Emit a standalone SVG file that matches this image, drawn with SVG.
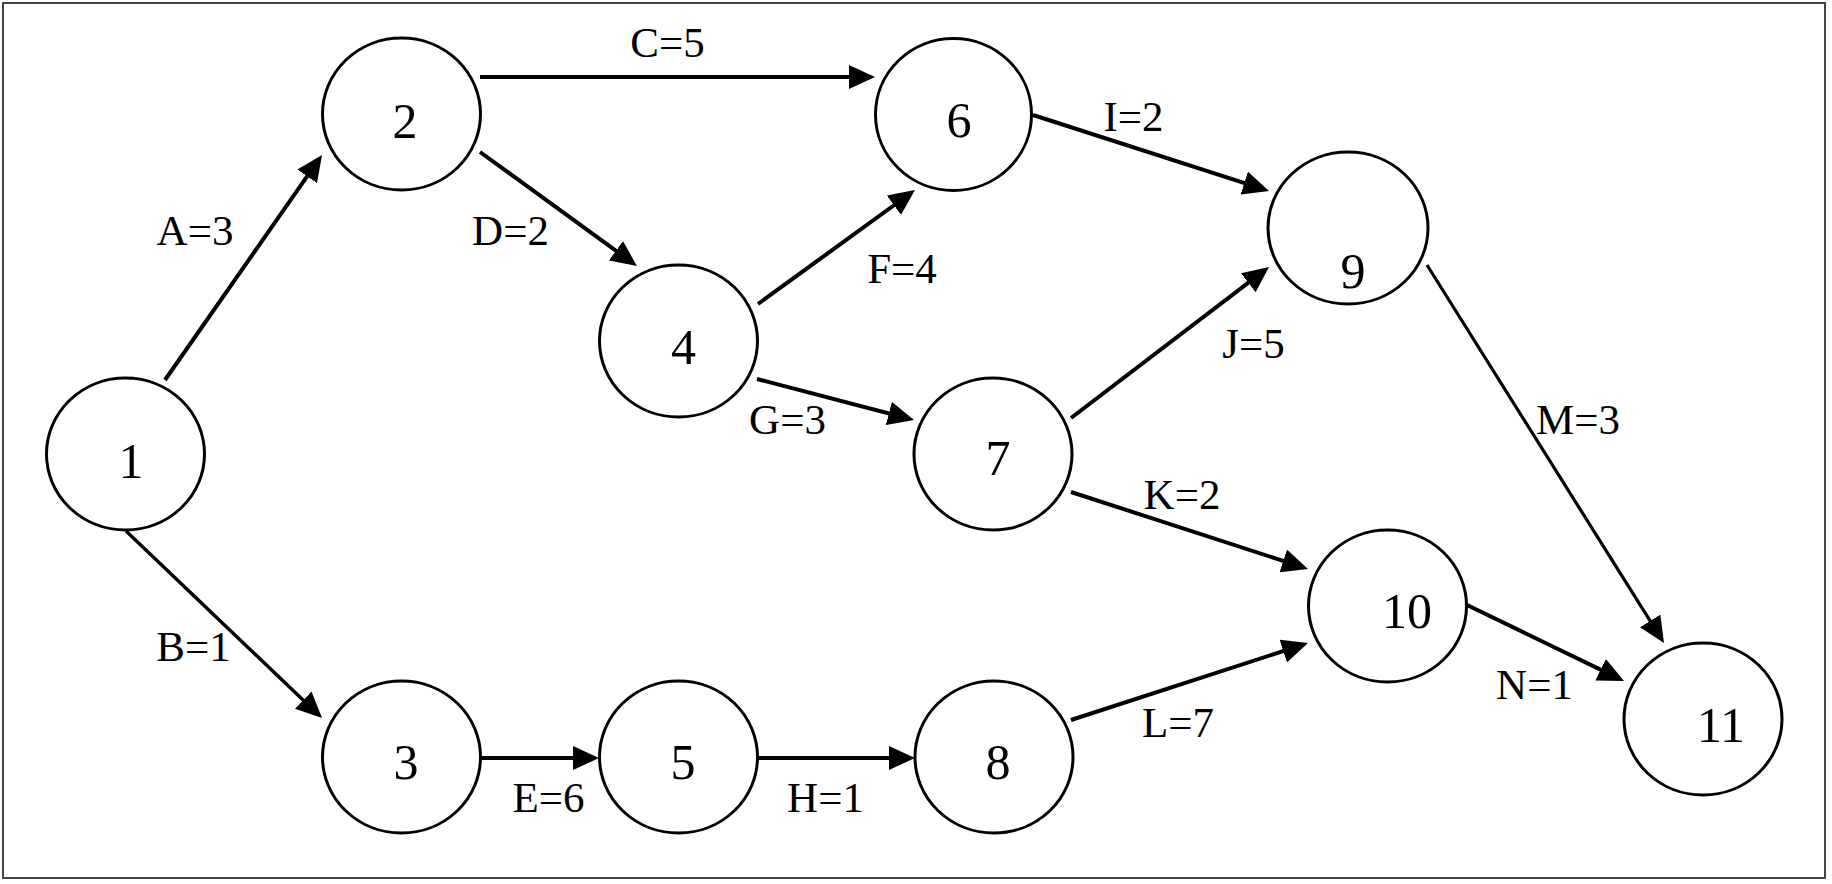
<svg xmlns="http://www.w3.org/2000/svg" width="1832" height="884" viewBox="0 0 1832 884">
<style>
.node ellipse{fill:#fff;stroke:#000;stroke-width:3}
.node text{font-family:"Liberation Serif","Times New Roman",serif;font-size:50px;text-anchor:middle;fill:#000}
.edge line{stroke:#000;stroke-width:4;marker-end:url(#arr)}
.lbl{font-family:"Liberation Serif","Times New Roman",serif;font-size:43px;text-anchor:middle;fill:#000}
</style>
<defs>
<marker id="arr" markerUnits="userSpaceOnUse" markerWidth="26" markerHeight="24" refX="20" refY="12" orient="auto">
<path d="M0,0 L26,12 L0,24 Z" fill="#000"/>
</marker>
</defs>
<rect x="0" y="0" width="1832" height="884" fill="#fff"/>
<rect x="3" y="3" width="1822" height="875" fill="none" stroke="#444" stroke-width="2"/>
<g id="connectors" class="edge">
<line x1="165" y1="380" x2="318.6" y2="159.9"/>
<line x1="126" y1="531" x2="317.7" y2="713.9" style="stroke-width:3.4"/>
<line x1="480" y1="77" x2="869" y2="77"/>
<line x1="480" y1="152" x2="632.1" y2="262.5"/>
<line x1="480" y1="758" x2="593" y2="758"/>
<line x1="758" y1="304" x2="910.1" y2="193.5"/>
<line x1="757" y1="379" x2="908.2" y2="418.5"/>
<line x1="758" y1="758" x2="909" y2="758"/>
<line x1="1033" y1="115" x2="1263.3" y2="189.2"/>
<line x1="1071" y1="418" x2="1264.2" y2="270.6"/>
<line x1="1071" y1="492" x2="1302.3" y2="567.1"/>
<line x1="1071" y1="720" x2="1302.3" y2="644.9"/>
<line x1="1427" y1="265" x2="1660.8" y2="637.9" style="stroke-width:3.2"/>
<line x1="1467" y1="605" x2="1618.6" y2="678.4"/>
</g>
<g id="labels">
<text class="lbl" x="195" y="245">A=3</text>
<text class="lbl" x="193.5" y="661">B=1</text>
<text class="lbl" x="667.5" y="57">C=5</text>
<text class="lbl" x="510.5" y="245">D=2</text>
<text class="lbl" x="548.5" y="812">E=6</text>
<text class="lbl" x="902" y="283">F=4</text>
<text class="lbl" x="787.5" y="434">G=3</text>
<text class="lbl" x="825.5" y="812">H=1</text>
<text class="lbl" x="1133.5" y="131">I=2</text>
<text class="lbl" x="1253.5" y="358">J=5</text>
<text class="lbl" x="1182" y="509">K=2</text>
<text class="lbl" x="1178" y="737">L=7</text>
<text class="lbl" x="1578" y="434">M=3</text>
<text class="lbl" x="1534.5" y="699">N=1</text>
</g>
<g id="n1" class="node"><ellipse cx="125.5" cy="454" rx="79" ry="76"/><text x="131" y="478">1</text></g>
<g id="n2" class="node"><ellipse cx="401.5" cy="114" rx="79" ry="76"/><text x="405" y="138">2</text></g>
<g id="n3" class="node"><ellipse cx="401.5" cy="757" rx="79" ry="76"/><text x="406" y="779">3</text></g>
<g id="n4" class="node"><ellipse cx="678.5" cy="341" rx="79" ry="76"/><text x="683.5" y="364">4</text></g>
<g id="n5" class="node"><ellipse cx="678.5" cy="757" rx="79" ry="76"/><text x="683" y="779">5</text></g>
<g id="n6" class="node"><ellipse cx="953.5" cy="114.5" rx="78" ry="76"/><text x="959" y="137">6</text></g>
<g id="n7" class="node"><ellipse cx="993" cy="454" rx="79" ry="76"/><text x="998" y="475">7</text></g>
<g id="n8" class="node"><ellipse cx="994" cy="757" rx="79" ry="76"/><text x="998" y="779">8</text></g>
<g id="n9" class="node"><ellipse cx="1348" cy="228" rx="80" ry="76"/><text x="1353" y="288">9</text></g>
<g id="n10" class="node"><ellipse cx="1387.5" cy="606" rx="79" ry="76"/><text x="1407" y="628">10</text></g>
<g id="n11" class="node"><ellipse cx="1703" cy="719" rx="79" ry="76"/><text x="1721" y="742">11</text></g>
</svg>
